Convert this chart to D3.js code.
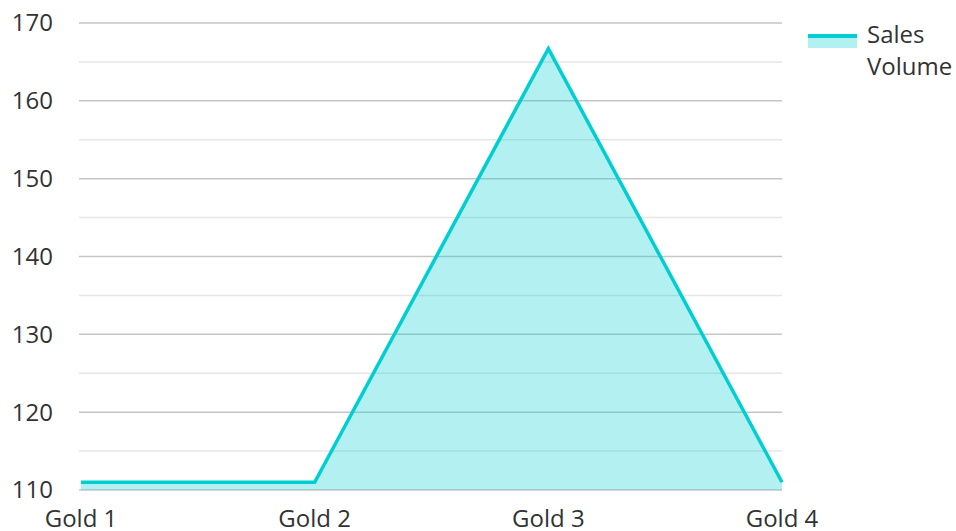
<!DOCTYPE html>
<html>
<head>
<meta charset="utf-8">
<script src="https://cdn.jsdelivr.net/npm/d3@7"></script>
<style>
  body { margin: 0; background: #fff; }
  text { font-family: "Open Sans", sans-serif; fill: #333; }
</style>
</head>
<body>
<script>
// chart data
var categories = ["Gold 1", "Gold 2", "Gold 3", "Gold 4"];
var salesVolume = [111, 111, 166.7, 111];
var yTicks = [110, 120, 130, 140, 150, 160, 170];
var seriesName = ["Sales", "Volume"];

var w = 956, h = 531;
var lineColor = "#00CED1";

var svg = d3.select("body").append("svg")
    .attr("width", w)
    .attr("height", h);

// scales
var x = d3.scalePoint()
    .domain(categories)
    .range([81, 782]);

var y = d3.scaleLinear()
    .domain([110, 170])
    .range([490, 23]);

// minor grid lines (half steps)
var minor = d3.range(115, 170, 10);
svg.selectAll(".minor")
    .data(minor)
    .enter()
    .append("line")
    .attr("class", "minor")
    .attr("x1", 79).attr("x2", 782)
    .attr("y1", function(d){ return y(d); })
    .attr("y2", function(d){ return y(d); })
    .style("stroke", "#e6e6e6")
    .style("stroke-width", 1.5);

// major grid lines
svg.selectAll(".major")
    .data(yTicks)
    .enter()
    .append("line")
    .attr("class", "major")
    .attr("x1", 79).attr("x2", 782)
    .attr("y1", function(d){ return y(d); })
    .attr("y2", function(d){ return y(d); })
    .style("stroke", "#c6c6c6")
    .style("stroke-width", 1.5);

// y tick labels
svg.selectAll(".ylab")
    .data(yTicks)
    .enter()
    .append("text")
    .attr("class", "ylab")
    .attr("x", 53)
    .attr("y", function(d){ return y(d); })
    .attr("dy", "0.35em")
    .attr("text-anchor", "end")
    .style("font-size", "24px")
    .text(function(d){ return d; });

// x tick labels
svg.selectAll(".xlab")
    .data(categories)
    .enter()
    .append("text")
    .attr("class", "xlab")
    .attr("x", function(d){ return x(d); })
    .attr("y", 527)
    .attr("text-anchor", "middle")
    .style("font-size", "24px")
    .text(function(d){ return d; });

// area + line
var pts = categories.map(function(c, i){ return [c, salesVolume[i]]; });

var area = d3.area()
    .x(function(d){ return x(d[0]); })
    .y0(y(110))
    .y1(function(d){ return y(d[1]); });

var line = d3.line()
    .x(function(d){ return x(d[0]); })
    .y(function(d){ return y(d[1]); });

svg.append("path")
    .datum(pts)
    .attr("d", area)
    .style("fill", lineColor)
    .style("fill-opacity", 0.3);

svg.append("path")
    .datum(pts)
    .attr("d", line)
    .style("fill", "none")
    .style("stroke", lineColor)
    .style("stroke-width", 3.5)
    .style("stroke-linejoin", "miter");

// legend
var legend = svg.append("g").attr("transform", "translate(808,35)");
legend.append("rect")
    .attr("x", 0).attr("y", 0)
    .attr("width", 49).attr("height", 13)
    .style("fill", lineColor)
    .style("fill-opacity", 0.3);
legend.append("line")
    .attr("x1", 0).attr("x2", 49)
    .attr("y1", 1).attr("y2", 1)
    .style("stroke", lineColor)
    .style("stroke-width", 4);
legend.append("text")
    .attr("x", 59)
    .attr("y", 8)
    .style("font-size", "24px")
    .selectAll("tspan")
    .data(seriesName)
    .enter()
    .append("tspan")
    .attr("x", 59)
    .attr("dy", function(d, i){ return i ? 32 : 0; })
    .text(function(d){ return d; });
</script>
</body>
</html>
